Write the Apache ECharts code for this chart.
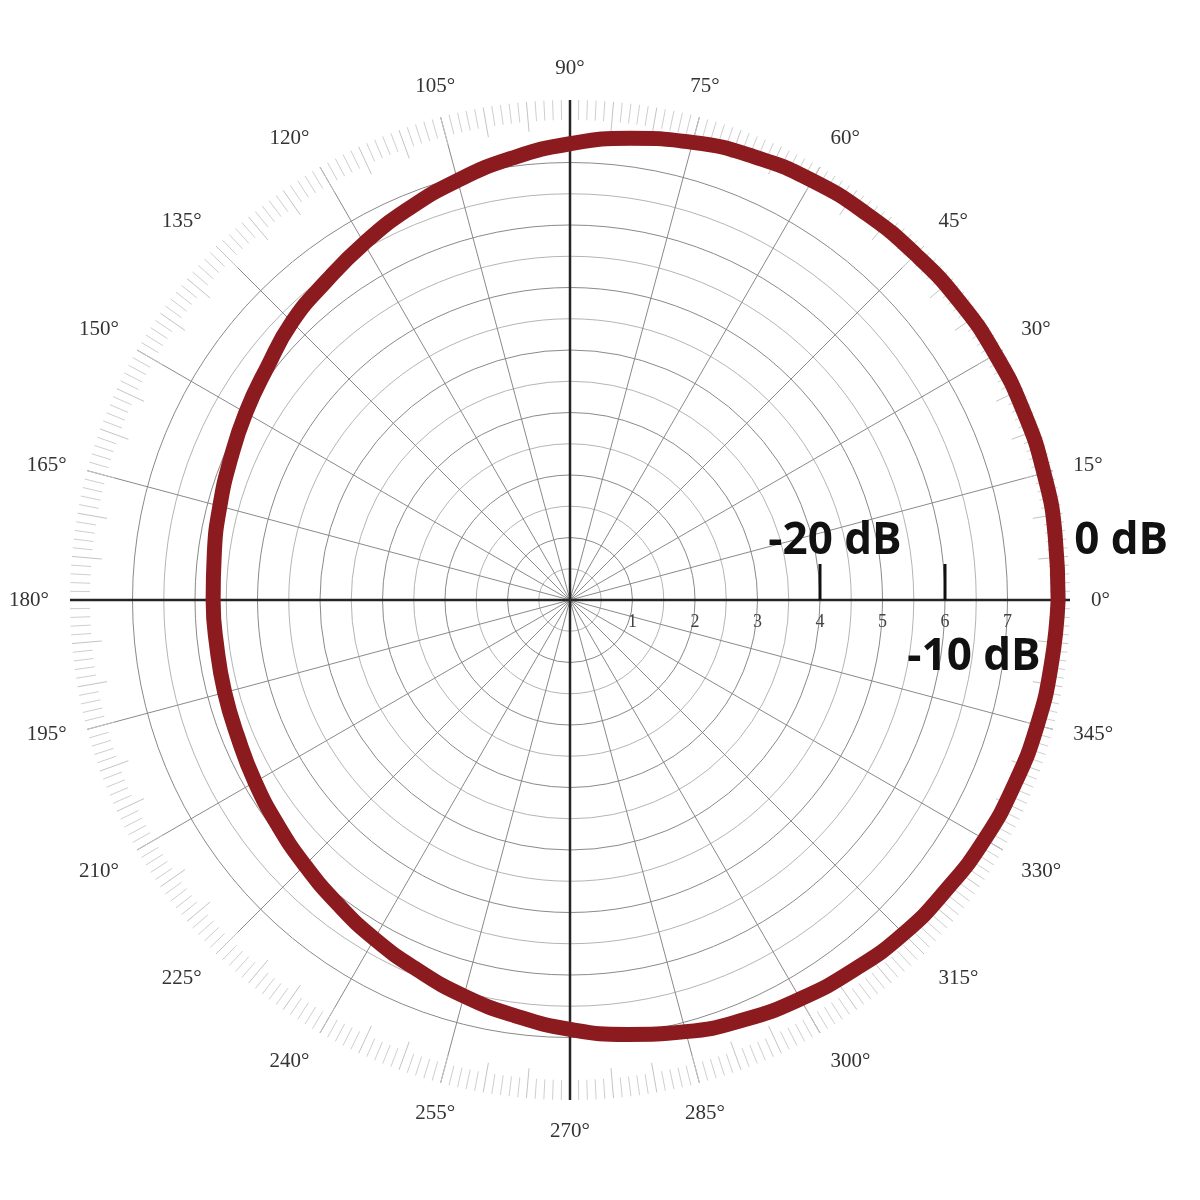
<!DOCTYPE html>
<html>
<head>
<meta charset="utf-8">
<script src="https://cdn.jsdelivr.net/npm/echarts@6/dist/echarts.min.js"></script>
<style>html,body{margin:0;padding:0;background:#fff}#c{width:1200px;height:1200px}</style>
</head>
<body>
<div id="c"></div>
<script>
// Pattern samples: angle (deg) and radius (grid units, 0..8 scale)
const angles = [0,7.5,15,22.5,30,37.5,45,52.5,60,67.5,75,82.5,90,97.5,105,112.5,120,127.5,135,142.5,150,157.5,165,172.5,
                180,187.5,195,202.5,210,217.5,225,232.5,240,247.5,255,262.5,270,277.5,285,292.5,300,307.5,315,322.5,330,337.5,345,352.5,360];
const gain   = [7.81,7.83,7.85,7.86,7.86,7.85,7.82,7.79,7.75,7.68,7.58,7.45,7.30,7.13,6.95,6.77,6.59,6.42,6.29,6.11,5.99,5.88,5.80,5.74,
                5.71,5.70,5.72,5.75,5.82,5.90,6.00,6.12,6.26,6.40,6.56,6.71,6.87,7.01,7.15,7.27,7.37,7.46,7.55,7.60,7.66,7.70,7.74,7.77,7.81];
const ringLabels = [1,2,3,4,5,6,7];
const markerRadii = [4, 6];
const markerLabels = ['-20 dB', '-10 dB'];
const refLabel = '0 dB';

const chart = echarts.init(document.getElementById('c'), null, {renderer: 'canvas'});

const radTicks = [];
for (let v = 0; v <= 8; v += 0.5) radTicks.push(v);
const ringColors = radTicks.map(v => v > 7 ? 'rgba(0,0,0,0)' : (v % 1 === 0 ? '#8a8a8a' : '#b5b5b5'));

const C = [570, 600], R = 500;
const hiddenRadius = (i) => ({polarIndex: i, type: 'value', min: 0, max: 8, axisLine:{show:false}, axisTick:{show:false}, axisLabel:{show:false}, splitLine:{show:false}});

chart.setOption({
  backgroundColor: '#ffffff',
  animation: false,
  polar: [
    {center: C, radius: R},
    {center: C, radius: R},
    {center: C, radius: R}
  ],
  angleAxis: [
    {
      polarIndex: 0, type: 'value', min: 0, max: 360, interval: 15,
      startAngle: 0, clockwise: false, z: 1,
      axisLine: {show: false},
      axisTick: {show: false},
      axisLabel: {
        show: true, margin: 21,
        fontFamily: 'Liberation Serif', fontSize: 21, color: '#333',
        formatter: v => (v >= 360 ? '' : v + '°')
      },
      splitLine: {show: true, lineStyle: {color: '#8a8a8a', width: 1}}
    },
    {
      polarIndex: 1, type: 'value', min: 0, max: 360, interval: 5,
      startAngle: 0, clockwise: false, z: 1,
      axisLine: {show: false},
      axisTick: {show: true, inside: true, length: 30, lineStyle: {color: '#c4c4c4', width: 1}},
      minorTick: {show: true, splitNumber: 5, length: 20, lineStyle: {color: '#cfcfcf', width: 1}},
      axisLabel: {show: false},
      splitLine: {show: false}
    },
    {
      polarIndex: 2, type: 'value', min: 0, max: 360, interval: 90,
      startAngle: 0, clockwise: false, z: 3,
      axisLine: {show: false}, axisTick: {show: false}, axisLabel: {show: false},
      splitLine: {show: true, lineStyle: {color: '#252525', width: 2.5}}
    }
  ],
  radiusAxis: [
    {
      polarIndex: 0, type: 'value', min: 0, max: 8, interval: 0.5, z: 1,
      axisLine: {show: false}, axisTick: {show: false},
      axisLabel: {
        show: true, margin: -31,
        fontFamily: 'Liberation Serif', fontSize: 18, color: '#444',
        formatter: v => (ringLabels.indexOf(v) >= 0 ? String(v) : '')
      },
      splitLine: {show: true, lineStyle: {color: ringColors, width: 1}}
    },
    hiddenRadius(1),
    hiddenRadius(2)
  ],
  series: [
    {
      name: 'pattern', type: 'line', coordinateSystem: 'polar', polarIndex: 0,
      data: angles.map((a, i) => [gain[i], a]),
      smooth: true, symbol: 'none', z: 5,
      lineStyle: {color: '#8c1b1f', width: 15}
    },
    {
      name: 'markers', type: 'scatter', coordinateSystem: 'polar', polarIndex: 0,
      data: markerRadii.map(r => [r, 0]),
      symbol: 'rect', symbolSize: [3, 36], symbolOffset: [0, '-50%'], z: 6,
      itemStyle: {color: '#111', opacity: 1}
    },
    {
      name: 'labels', type: 'scatter', coordinateSystem: 'polar', polarIndex: 0,
      symbolSize: 1, z: 7, itemStyle: {color: 'rgba(0,0,0,0)', opacity: 1},
      label: {show: true, position: 'inside', fontFamily: 'Open Sans', fontWeight: 'bold', fontSize: 44, color: '#111',
              formatter: p => p.name},
      data: [
        {name: markerLabels[0], value: [markerRadii[0], 0], label: {offset: [15, -59]}},
        {name: markerLabels[1], value: [markerRadii[1], 0], label: {offset: [29, 57]}},
        {name: refLabel, value: [gain[0], 0], label: {offset: [63, -59]}}
      ]
    }
  ]
});
</script>
</body>
</html>
